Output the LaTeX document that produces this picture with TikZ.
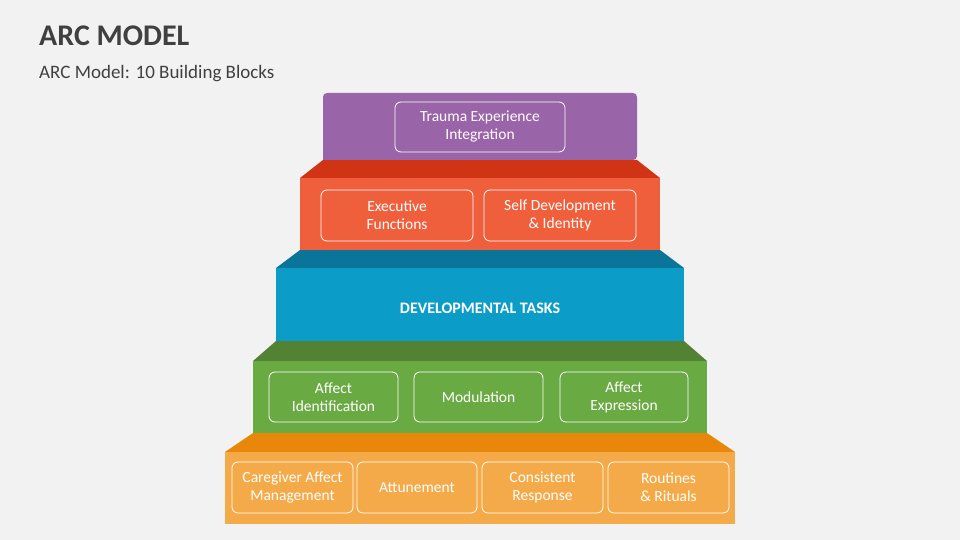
\documentclass[tikz,border=0pt]{standalone}
\usepackage{fontspec}
\setmainfont{Carlito}
\definecolor{bg}{RGB}{242,242,242}
\definecolor{txt}{RGB}{64,64,64}
\definecolor{oT}{RGB}{232,135,10}\definecolor{oF}{RGB}{245,170,74}
\definecolor{gT}{RGB}{84,130,53}\definecolor{gF}{RGB}{106,170,67}
\definecolor{bT}{RGB}{10,117,152}\definecolor{bF}{RGB}{11,156,200}
\definecolor{rT}{RGB}{209,52,20}\definecolor{rF}{RGB}{239,95,60}
\definecolor{pF}{RGB}{154,100,168}
\begin{document}
\begin{tikzpicture}[x=1pt,y=-1pt,
  ib/.style={draw=white,line width=0.8pt,rounded corners=6pt,text=white,align=center,font=\fontsize{15.5}{18}\selectfont,inner sep=0pt},
  lbl/.style={text=white,align=center,font=\fontsize{15.5}{18}\selectfont}]
\fill[bg] (0,0) rectangle (960,540);
\useasboundingbox (0,0) rectangle (960,540);
\node[anchor=west,text=txt,font=\fontsize{30}{34}\bfseries\selectfont,inner sep=0] (title) at (39,36) {ARC MODEL};
\node[anchor=west,text=txt,font=\fontsize{19}{22}\selectfont,inner sep=0] (sub) at (39,74) {ARC Model: 10 Building Blocks};
\fill[oT] (253,433) -- (707,433) -- (735,452) -- (225,452) -- cycle;
\fill[oF] (225,452) rectangle (735,524);
\fill[gT] (276,341) -- (684,341) -- (707,361) -- (253,361) -- cycle;
\fill[gF] (253,361) rectangle (707,433);
\fill[bT] (300,250) -- (660,250) -- (684,268) -- (276,268) -- cycle;
\fill[bF] (276,268) rectangle (684,341);
\fill[rT] (323,160) -- (637,160) -- (660,178) -- (300,178) -- cycle;
\fill[rF] (300,178) rectangle (660,250);
\fill[pF,rounded corners=4pt] (323,160) -- (323,93) -- (637,93) -- (637,160) [sharp corners] -- cycle;
\node[ib,minimum width=170,minimum height=50] (t1) at (480,127) {Trauma Experience\\Integration};
\node[ib,minimum width=152,minimum height=51] (r1) at (397,215.5) {Executive\\Functions};
\node[ib,minimum width=152,minimum height=51] (r2) at (560,215.5) {Self Development\\\& Identity};
\node[lbl,font=\fontsize{16}{19}\bfseries\selectfont] (dev) at (480,308) {DEVELOPMENTAL TASKS};
\node[ib,minimum width=129,minimum height=50] (g1) at (333.5,397) {Affect\\Identification};
\node[ib,minimum width=129,minimum height=50] (g2) at (478.5,397) {Modulation};
\node[ib,minimum width=128,minimum height=50] (g3) at (624,397) {Affect\\Expression};
\node[ib,minimum width=121,minimum height=51] (o1) at (292.5,487.5) {Caregiver Affect\\Management};
\node[ib,minimum width=120,minimum height=51] (o2) at (417,487.5) {Attunement};
\node[ib,minimum width=121,minimum height=51] (o3) at (542.5,487.5) {Consistent\\Response};
\node[ib,minimum width=121,minimum height=51] (o4) at (668.5,487.5) {Routines\\\& Rituals};
\end{tikzpicture}
\end{document}
